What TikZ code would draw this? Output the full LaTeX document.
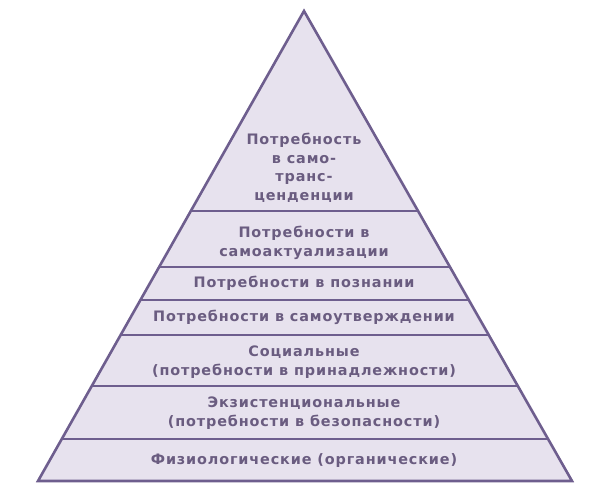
\documentclass[tikz,border=0pt]{standalone}
\usepackage{fontspec}
\setmainfont{DejaVu Sans}
\usepackage{xcolor}
\usetikzlibrary{calc}
\definecolor{edgecol}{HTML}{6E5E8E}
\definecolor{fillcol}{HTML}{E7E2EE}
\definecolor{textcol}{HTML}{6A5C80}
\tikzset{tier/.style={draw=edgecol,fill=fillcol,line width=2.6pt,line join=miter},
         tierline/.style={draw=edgecol,line width=2.6pt},
         lbl/.style={text=textcol,font=\fontsize{14.4}{18.5}\selectfont\bfseries\addfontfeatures{LetterSpace=6},align=center,inner sep=0pt}}

\begin{document}
\begin{tikzpicture}[x=1pt,y=-1pt]
\useasboundingbox (0,0) rectangle (604,491);
\coordinate (apex) at (304,11);
\coordinate (bl) at (38,481);
\coordinate (br) at (572,481);
\filldraw[tier] (apex)--(bl)--(br)--cycle;
\foreach \y in {211,267,300,335,386,439}
  \draw[tierline] ($(apex)!{(\y-11)/470}!(bl)$)--($(apex)!{(\y-11)/470}!(br)$);
\node[lbl] (trans) at (304,168) {Потребность\\в само-\\транс-\\ценденции};
\node[lbl] (actual) at (304,243) {Потребности в\\самоактуализации};
\node[lbl] (cogn) at (304,283) {Потребности в познании};
\node[lbl] (esteem) at (304,317) {Потребности в самоутверждении};
\node[lbl] (social) at (304,362) {Социальные\\(потребности в принадлежности)};
\node[lbl] (safety) at (304,413) {Экзистенциональные\\(потребности в безопасности)};
\node[lbl] (physio) at (304,461) {Физиологические (органические)};
\end{tikzpicture}
\end{document}
